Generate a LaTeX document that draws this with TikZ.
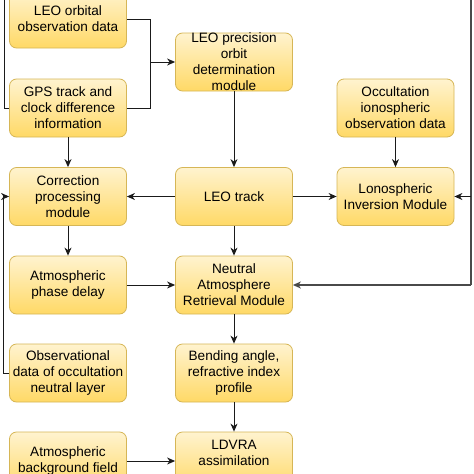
\documentclass[tikz,border=0pt]{standalone}
\usepackage{fontspec}
\setmainfont{Liberation Sans}
\usetikzlibrary{arrows.meta}
\definecolor{boxtop}{HTML}{FFF3CF}
\definecolor{boxbot}{HTML}{FFD966}
\definecolor{boxline}{HTML}{D6B656}
\definecolor{linec}{HTML}{1A1A1A}
\definecolor{rlinec}{HTML}{4A4A4A}
\tikzset{
  box/.style={draw=boxline, rounded corners=7pt, top color=boxtop, bottom color=boxbot,
    minimum width=117pt, minimum height=58pt, align=center, inner sep=0pt,
    font=\fontsize{13.6}{16}\selectfont, line width=0.8pt},
  conn/.style={draw=linec, line width=1pt, -{Stealth[length=8pt,width=7pt,inset=2.5pt]}},
  plain/.style={draw=linec, line width=1pt},
  thick line/.style={draw=rlinec, line width=2pt},
}
\begin{document}
\begin{tikzpicture}[x=1pt,y=-1pt]
\fill[white] (0,0) rectangle (474,474);
\useasboundingbox (0,0) rectangle (474,474);
\clip (0,0) rectangle (474,474);
% left column
\node[box] (orb) at (68,19) {LEO orbital\\observation data};
\node[box] (gps) at (68,108) {GPS track and\\clock difference\\information};
\node[box] (cor) at (68,196.5) {Correction\\processing\\module};
\node[box] (apd) at (68,285) {Atmospheric\\phase delay};
\node[box] (obs) at (68,373) {Observational\\data of occultation\\neutral layer};
\node[box] (bkg) at (68,461) {Atmospheric\\background field};
% middle column
\node[box] (pod) at (234,62) {LEO precision\\orbit\\determination\\module};
\node[box] (trk) at (234,196.5) {LEO track};
\node[box] (neu) at (234,285) {Neutral\\Atmosphere\\Retrieval Module};
\node[box] (ben) at (234,373) {Bending angle,\\refractive index\\profile};
\node[box] (ldv) at (234,461) {LDVRA\\assimilation\\\phantom{x}};
% right column
\node[box] (occ) at (395.5,108) {Occultation\\ionospheric\\observation data};
\node[box] (ion) at (395.5,196.5) {Lonospheric\\Inversion Module};
% junctions
\coordinate (j1) at (150,62);
\coordinate (lt) at (4,-5);
\coordinate (lc) at (3,196.5);
\coordinate (rt) at (471,-5);
\coordinate (rm) at (471,196.5);
\coordinate (rb) at (471,285);
% connectors
\draw[plain] (orb.east) -| (j1);
\draw[plain] (gps.east) -| (j1);
\draw[conn] (j1) -- (pod.west);
\draw[conn] (gps) -- (cor);
\draw[conn] (pod) -- (trk);
\draw[conn] (occ) -- (ion);
\draw[conn] (trk) -- (cor);
\draw[conn] (trk) -- (ion);
\draw[conn] (cor) -- (apd);
\draw[conn] (apd) -- (neu);
\draw[conn] (trk) -- (neu);
\draw[conn] (neu) -- (ben);
\draw[conn] (ben) -- (ldv);
\draw[conn] (bkg) -- (ldv);
\draw[plain] (gps.west) -| (lt);
\draw[conn] (obs.west) -| (lc) -- (cor.west);
\draw[thick line] (rt) -- (rb);
\draw[thick line, -{Stealth[length=8pt,width=7pt,inset=2.5pt]}] (rb) -- (neu.east);
\draw[conn] (rm) -- (ion.east);
\end{tikzpicture}
\end{document}
